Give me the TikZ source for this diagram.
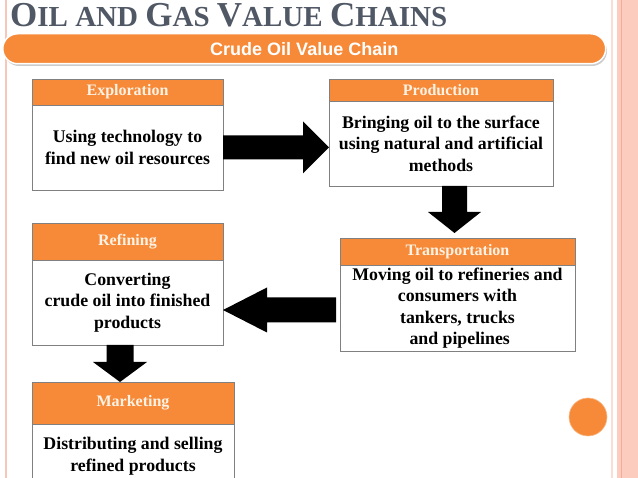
\documentclass[tikz,border=0pt]{standalone}
\usepackage{fontspec}
\setmainfont{Liberation Serif}
\newfontfamily\barfont{Liberation Sans}
\usepackage{tikz}
\usetikzlibrary{calc,positioning}
\definecolor{oilorange}{RGB}{246,138,56}
\definecolor{titlegray}{RGB}{80,87,101}
\definecolor{framegray}{RGB}{128,128,128}
\definecolor{headtext}{RGB}{253,242,228}
\definecolor{pinkline}{RGB}{247,200,186}
\definecolor{salmon}{RGB}{252,204,190}
\definecolor{darksalmon}{RGB}{242,172,152}
\newcommand{\titlebig}{\fontsize{35}{35}\selectfont}
\newcommand{\titlesmall}{\fontsize{29}{29}\selectfont}
% tail, tip, shaft half width, head half width, head length
\newcommand{\blockarrow}[5]{%
  \coordinate (hb) at ($(#2)!#5!(#1)$);
  \fill ($(#1)!#3!90:(#2)$) -- ($(hb)!#3!90:(#2)$) -- ($(hb)!#4!90:(#2)$) -- (#2)
    -- ($(hb)!#4!-90:(#2)$) -- ($(hb)!#3!-90:(#2)$) -- ($(#1)!#3!-90:(#2)$) -- cycle;
}

\begin{document}
\begin{tikzpicture}[x=1pt,y=-1pt,
    headbox/.style={draw=framegray, fill=oilorange, line width=0.8pt, outer sep=0pt,
      text=headtext, font=\bfseries\fontsize{16}{18}\selectfont},
    bodybox/.style={draw=framegray, fill=white, line width=0.8pt, outer sep=0pt,
      align=center, font=\bfseries\fontsize{17.8}{21.5}\selectfont},
    bar/.style={fill=oilorange, draw=white, line width=1.5pt, rounded corners=15pt,
      text=white, font=\barfont\bfseries\fontsize{18}{20}\selectfont}]
        \useasboundingbox (0,0) rectangle (638,478);
        \clip (0,0) rectangle (638,478);
        %Frame
        \fill[pinkline] (5,0) rectangle (7,478);
        \fill[pinkline!60!white] (610.7,0) rectangle (613.3,478);
        \fill[salmon] (616.7,0) rectangle (638,478);
        \fill[darksalmon] (621,0) rectangle (622.3,478);
        %Title
        \node[anchor=base west, inner sep=0pt, text=titlegray, font=\bfseries] (title) at (10,27)
          {{\titlebig O}{\titlesmall IL AND }{\titlebig G}{\titlesmall AS }{\titlebig V}{\titlesmall ALUE }{\titlebig C}{\titlesmall HAINS}};
        \fill[black!20, rounded corners=15pt] (4,36) rectangle (607,66);
        \node[bar, minimum width=603pt, minimum height=30pt, anchor=north west] (chain) at (2,33)
          {Crude Oil Value Chain};
        %Boxes
        \node[headbox, minimum width=191pt, minimum height=26pt, anchor=north west] (explh) at (32,79) {Exploration};
        \node[bodybox, minimum width=191pt, minimum height=85pt, below=0pt of explh] (expl)
          {Using technology to\\find new oil resources};
        \node[headbox, minimum width=224pt, minimum height=22pt, anchor=north west] (prodh) at (329,79) {Production};
        \node[bodybox, minimum width=224pt, minimum height=85pt, below=0pt of prodh] (prod)
          {Bringing oil to the surface\\using natural and artificial\\methods};
        \node[headbox, minimum width=235pt, minimum height=27pt, anchor=north west] (transh) at (340,238) {Transportation};
        \node[bodybox, minimum width=235pt, minimum height=86pt, inner ysep=1pt, below=0pt of transh] (trans)
          {Moving oil to refineries and\\consumers with\\tankers, trucks\\\ and pipelines};
        \node[headbox, minimum width=191pt, minimum height=37pt, anchor=north west] (refh) at (32,223) {Refining};
        \node[bodybox, minimum width=191pt, minimum height=85pt, below=0pt of refh] (ref)
          {Converting\\crude oil into finished\\products};
        \node[headbox, minimum width=202pt, minimum height=42pt, anchor=north west] (markh) at (32,382) {Marketing};
        \node[bodybox, minimum width=202pt, minimum height=64pt, below=0pt of markh] (mark)
          {Distributing and selling\\refined products};
        %Arrows
        \coordinate (a1) at (expl.east -| prod.west);
        \blockarrow{expl.east}{a1}{12pt}{26pt}{26pt}
        \coordinate (d2) at ($(transh.north)+(-3,-5)$);
        \coordinate (d1) at (d2 |- prod.south);
        \blockarrow{d1}{d2}{12.5pt}{26.5pt}{21pt}
        \coordinate (l1) at ($(trans.west)+(-4,2)$);
        \coordinate (l2) at (ref.east |- l1);
        \blockarrow{l1}{l2}{12.5pt}{22.5pt}{44pt}
        \coordinate (m1) at ($(ref.south)+(-7.5,0)$);
        \coordinate (m2) at (m1 |- markh.north);
        \blockarrow{m1}{m2}{13.5pt}{27pt}{20pt}
        %Dot
        \node[circle, fill=oilorange, draw=oilorange!60!white, line width=0.6pt, minimum size=38pt] (dot) at (588,417) {};
\end{tikzpicture}
\end{document}
